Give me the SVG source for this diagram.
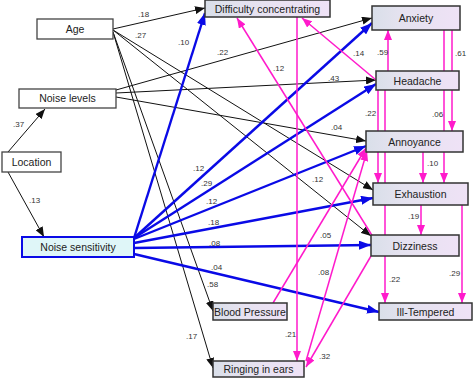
<svg xmlns="http://www.w3.org/2000/svg" width="474" height="379" viewBox="0 0 474 379">
<style>
.bk{stroke:#111;stroke-width:1;fill:none;marker-end:url(#ak)}
.bl{stroke:#0a0ae6;stroke-width:2.4;fill:none;marker-end:url(#ab)}
.mg{stroke:#ff1acb;stroke-width:1.5;fill:none;marker-end:url(#am)}
.w{fill:#fff;stroke:#444;stroke-width:1.3}
.o{fill:url(#g);stroke:#333;stroke-width:1.5}
.t{font-family:"Liberation Sans",Arial,sans-serif;font-size:10.5px;fill:#222;text-anchor:middle}
.l{font-family:"Liberation Sans",Arial,sans-serif;font-size:8px;fill:#333}
</style>
<defs>
<linearGradient id="g" x1="0" y1="0" x2="1" y2="0">
<stop offset="0" stop-color="#d9dfe9"/>
<stop offset="0.3" stop-color="#e4e2ef"/>
<stop offset="1" stop-color="#efe2f6"/>
</linearGradient>
<marker id="ak" viewBox="0 0 10 8" refX="10" refY="4" markerWidth="10" markerHeight="8" orient="auto" markerUnits="userSpaceOnUse"><path d="M0,0 L10,4 L0,8 z" fill="#111"/></marker>
<marker id="ab" viewBox="0 0 12 9" refX="12" refY="4.5" markerWidth="12" markerHeight="9" orient="auto" markerUnits="userSpaceOnUse"><path d="M0,0 L12,4.5 L0,9 z" fill="#0a0ae6"/></marker>
<marker id="am" viewBox="0 0 10 8" refX="10" refY="4" markerWidth="10" markerHeight="8" orient="auto" markerUnits="userSpaceOnUse"><path d="M0,0 L10,4 L0,8 z" fill="#ff1acb"/></marker>
</defs>
<g id="connectors">
<line class="bk" x1="113" y1="29" x2="205" y2="8"/>
<line class="bk" x1="113" y1="30" x2="373" y2="190"/>
<line class="bk" x1="113" y1="30" x2="371" y2="236"/>
<line class="bk" x1="113" y1="32" x2="213" y2="311"/>
<line class="bk" x1="113" y1="32" x2="213" y2="368"/>
<line class="bk" x1="116" y1="90" x2="372" y2="18"/>
<line class="bk" x1="116" y1="93" x2="376" y2="80"/>
<line class="bk" x1="116" y1="97" x2="366" y2="141"/>
<line class="bk" x1="8" y1="152" x2="45" y2="109"/>
<line class="bk" x1="8" y1="172" x2="44" y2="237"/>
<line class="bl" x1="134" y1="238" x2="205" y2="13"/>
<line class="bl" x1="134" y1="238" x2="372" y2="23"/>
<line class="bl" x1="134" y1="238" x2="376" y2="84"/>
<line class="bl" x1="134" y1="239" x2="366" y2="146"/>
<line class="bl" x1="134" y1="243" x2="373" y2="198"/>
<line class="bl" x1="134" y1="248" x2="371" y2="245"/>
<line class="bl" x1="134" y1="254" x2="379" y2="312"/>
<line class="mg" x1="388" y1="71" x2="388" y2="30"/>
<line class="mg" x1="452" y1="30" x2="452" y2="131"/>
<line class="mg" x1="444" y1="30" x2="444" y2="183"/>
<line class="mg" x1="378" y1="90" x2="378" y2="183"/>
<line class="mg" x1="385" y1="90" x2="385" y2="303"/>
<line class="mg" x1="423" y1="152" x2="423" y2="183"/>
<line class="mg" x1="421" y1="205" x2="421" y2="235"/>
<line class="mg" x1="462" y1="205" x2="462" y2="303"/>
<line class="mg" x1="376" y1="80" x2="302" y2="18"/>
<line class="mg" x1="373" y1="237" x2="237" y2="18"/>
<line class="mg" x1="297" y1="17" x2="297" y2="361"/>
<line class="mg" x1="273" y1="303" x2="366" y2="148"/>
<line class="mg" x1="306" y1="361" x2="367" y2="151"/>
<line class="mg" x1="371" y1="256" x2="306" y2="367"/>
</g>
<g id="labels">
<text class="l" x="138" y="17">.18</text>
<text class="l" x="135" y="38">.27</text>
<text class="l" x="178" y="45">.10</text>
<text class="l" x="217" y="55">.22</text>
<text class="l" x="13" y="127">.37</text>
<text class="l" x="273" y="71">.12</text>
<text class="l" x="328" y="81">.43</text>
<text class="l" x="353" y="56">.14</text>
<text class="l" x="377" y="55">.59</text>
<text class="l" x="455" y="56">.61</text>
<text class="l" x="365" y="116">.22</text>
<text class="l" x="432" y="117">.06</text>
<text class="l" x="331" y="130">.04</text>
<text class="l" x="427" y="166">.10</text>
<text class="l" x="312" y="182">.12</text>
<text class="l" x="408" y="219">.19</text>
<text class="l" x="320" y="238">.05</text>
<text class="l" x="193" y="171">.12</text>
<text class="l" x="201" y="186">.29</text>
<text class="l" x="206" y="204">.12</text>
<text class="l" x="208" y="225">.18</text>
<text class="l" x="209" y="246">.08</text>
<text class="l" x="211" y="270">.04</text>
<text class="l" x="207" y="287">.58</text>
<text class="l" x="186" y="339">.17</text>
<text class="l" x="29" y="203">.13</text>
<text class="l" x="285" y="337">.21</text>
<text class="l" x="319" y="359">.32</text>
<text class="l" x="318" y="275">.08</text>
<text class="l" x="389" y="282">.22</text>
<text class="l" x="449" y="276">.29</text>
</g>
<g id="age"><rect class="w" x="37" y="19" width="76" height="20"/><text class="t" x="75" y="33">Age</text></g>
<g id="noise-levels"><rect class="w" x="19" y="89" width="97" height="19"/><text class="t" x="67.5" y="102">Noise levels</text></g>
<g id="location"><rect class="w" x="2" y="152" width="59" height="20"/><text class="t" x="31.5" y="166">Location</text></g>
<g id="noise-sensitivity"><rect x="22" y="237" width="112" height="20" fill="#dff6f8" stroke="#0a0ae6" stroke-width="2"/><text class="t" x="78" y="251">Noise sensitivity</text></g>
<g id="difficulty"><rect class="o" x="205" y="0" width="125" height="17" stroke-width="2"/><text class="t" x="267.5" y="12.5">Difficulty concentrating</text></g>
<g id="anxiety"><rect class="o" x="372" y="6" width="88" height="24"/><text class="t" x="416" y="22">Anxiety</text></g>
<g id="headache"><rect class="o" x="376" y="71" width="83" height="19"/><text class="t" x="417.5" y="84.5">Headache</text></g>
<g id="annoyance"><rect class="o" x="366" y="131" width="97" height="21"/><text class="t" x="414.5" y="145.5">Annoyance</text></g>
<g id="exhaustion"><rect class="o" x="373" y="183" width="95" height="22"/><text class="t" x="420.5" y="198">Exhaustion</text></g>
<g id="dizziness"><rect class="o" x="371" y="235" width="88" height="21"/><text class="t" x="415" y="249.5">Dizziness</text></g>
<g id="ill-tempered"><rect class="o" x="379" y="303" width="93" height="17"/><text class="t" x="425.5" y="315.5">Ill-Tempered</text></g>
<g id="blood-pressure"><rect class="o" x="213" y="303" width="74" height="17"/><text class="t" x="250" y="315.5">Blood Pressure</text></g>
<g id="ringing"><rect class="o" x="213" y="361" width="91" height="16"/><text class="t" x="258.5" y="373">Ringing in ears</text></g>
</svg>
